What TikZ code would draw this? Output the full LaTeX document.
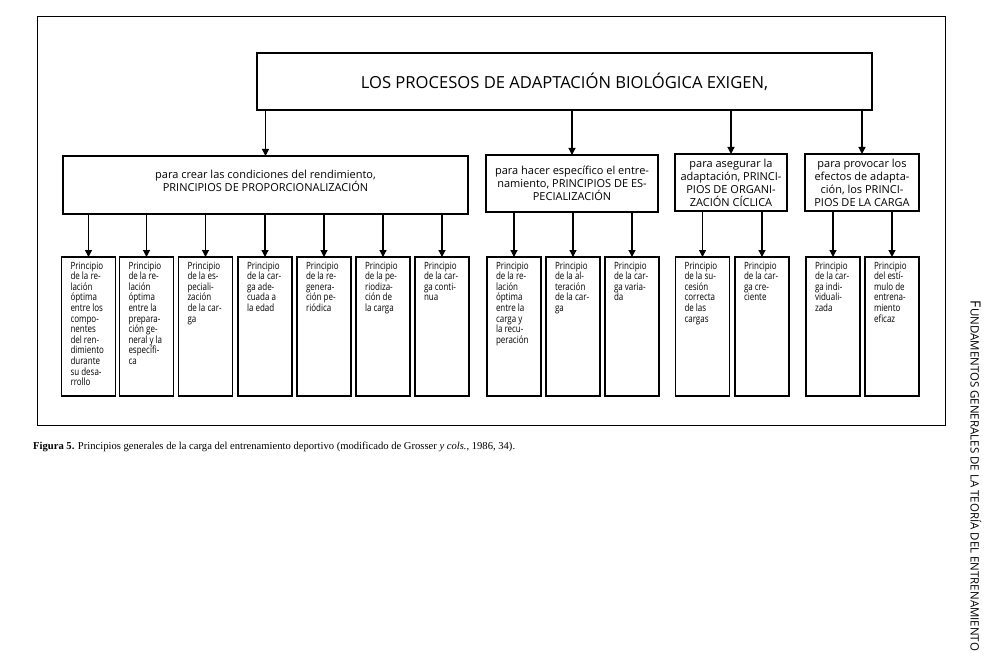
\documentclass[tikz,border=0pt]{standalone}
\usepackage{fontspec}
\setmainfont{Open Sans}
\newfontfamily\capfont{Liberation Serif}
\newfontfamily\condfont[FakeStretch=0.8]{Open Sans}
\usetikzlibrary{arrows.meta}
\tikzset{
  box/.style={draw, line width=1.1pt, inner sep=0pt, outer sep=0pt},
  midbox/.style={box, align=center, font=\fontsize{11}{13}\selectfont},
  leafbox/.style={box, anchor=north, minimum width=54pt, minimum height=139pt},
  arr/.style={-{Triangle[length=7pt,width=7pt]}, line width=1.2pt},
}
\newcommand{\leaf}[1]{\parbox[t][139pt][t]{54pt}{\condfont\fontsize{10}{10.6}\selectfont\raggedright\leftskip=9pt\rule{0pt}{12pt}#1}}
\begin{document}
\begin{tikzpicture}[x=1pt,y=-1pt]
\useasboundingbox (0,0) rectangle (1008,663);
\node[draw, line width=0.9pt, minimum width=908pt, minimum height=409pt, inner sep=0pt] (frame) at (491,220.5) {};
\node[box, minimum width=615pt, minimum height=57pt, font=\fontsize{16.6}{18}\selectfont] (top) at (564.5,81.5) {LOS PROCESOS DE ADAPTACIÓN BIOLÓGICA EXIGEN,};
\node[midbox, minimum width=405pt, minimum height=58pt] (A) at (265.5,185) {para crear las condiciones del rendimiento,\\PRINCIPIOS DE PROPORCIONALIZACIÓN\\[-5pt]};
\node[midbox, minimum width=172pt, minimum height=57pt] (B) at (572,183.5) {para hacer específico el entre-\\namiento, PRINCIPIOS DE ES-\\PECIALIZACIÓN};
\node[midbox, minimum width=112pt, minimum height=57pt] (C) at (731,182.5) {para asegurar la\\adaptación, PRINCI-\\PIOS DE ORGANI-\\ZACIÓN CÍCLICA};
\node[midbox, minimum width=114pt, minimum height=57pt] (D) at (862,182.5) {para provocar los\\efectos de adapta-\\ción, los PRINCI-\\PIOS DE LA CARGA};
\foreach \t in {A,B,C,D} \draw[arr] (top.south -| \t.north) -- (\t.north);
\node[leafbox] (b1) at (88.5,257) {\leaf{Principio\\de la re-\\lación\\óptima\\entre los\\compo-\\nentes\\del ren-\\dimiento\\durante\\su desa-\\rrollo}};
\node[leafbox] (b2) at (146.5,257) {\leaf{Principio\\de la re-\\lación\\óptima\\entre la\\prepara-\\ción ge-\\neral y la\\específi-\\ca}};
\node[leafbox] (b3) at (205.5,257) {\leaf{Principio\\de la es-\\peciali-\\zación\\de la car-\\ga}};
\node[leafbox] (b4) at (265,257) {\leaf{Principio\\de la car-\\ga ade-\\cuada a\\la edad}};
\node[leafbox] (b5) at (324,257) {\leaf{Principio\\de la re-\\genera-\\ción pe-\\riódica}};
\node[leafbox] (b6) at (383,257) {\leaf{Principio\\de la pe-\\riodiza-\\ción de\\la carga}};
\node[leafbox] (b7) at (442,257) {\leaf{Principio\\de la car-\\ga conti-\\nua}};
\node[leafbox] (b8) at (514,257) {\leaf{Principio\\de la re-\\lación\\óptima\\entre la\\carga y\\la recu-\\peración}};
\node[leafbox] (b9) at (573,257) {\leaf{Principio\\de la al-\\teración\\de la car-\\ga}};
\node[leafbox] (b10) at (632,257) {\leaf{Principio\\de la car-\\ga varia-\\da}};
\node[leafbox] (b11) at (702.5,257) {\leaf{Principio\\de la su-\\cesión\\correcta\\de las\\cargas}};
\node[leafbox] (b12) at (762,257) {\leaf{Principio\\de la car-\\ga cre-\\ciente}};
\node[leafbox] (b13) at (833,257) {\leaf{Principio\\de la car-\\ga indi-\\viduali-\\zada}};
\node[leafbox] (b14) at (892,257) {\leaf{Principio\\del estí-\\mulo de\\entrena-\\miento\\eficaz}};
\foreach \b in {b1,b2,b3,b4,b5,b6,b7} \draw[arr] (A.south -| \b.north) -- (\b.north);
\foreach \b in {b8,b9,b10} \draw[arr] (B.south -| \b.north) -- (\b.north);
\foreach \b in {b11,b12} \draw[arr] (C.south -| \b.north) -- (\b.north);
\foreach \b in {b13,b14} \draw[arr] (D.south -| \b.north) -- (\b.north);
\node[anchor=west, inner sep=0pt, font=\capfont\fontsize{10.6}{12}\selectfont] (cap) at (33,447) {\textbf{Figura 5.} Principios generales de la carga del entrenamiento deportivo (modificado de Grosser \textit{y cols.}, 1986, 34).};
\node[rotate=-90, inner sep=0pt] (side) at (976,476) {\fontsize{14}{14}\selectfont F\fontsize{11.5}{14}\selectfont UNDAMENTOS GENERALES DE LA TEORÍA DEL ENTRENAMIENTO};
\end{tikzpicture}
\end{document}
